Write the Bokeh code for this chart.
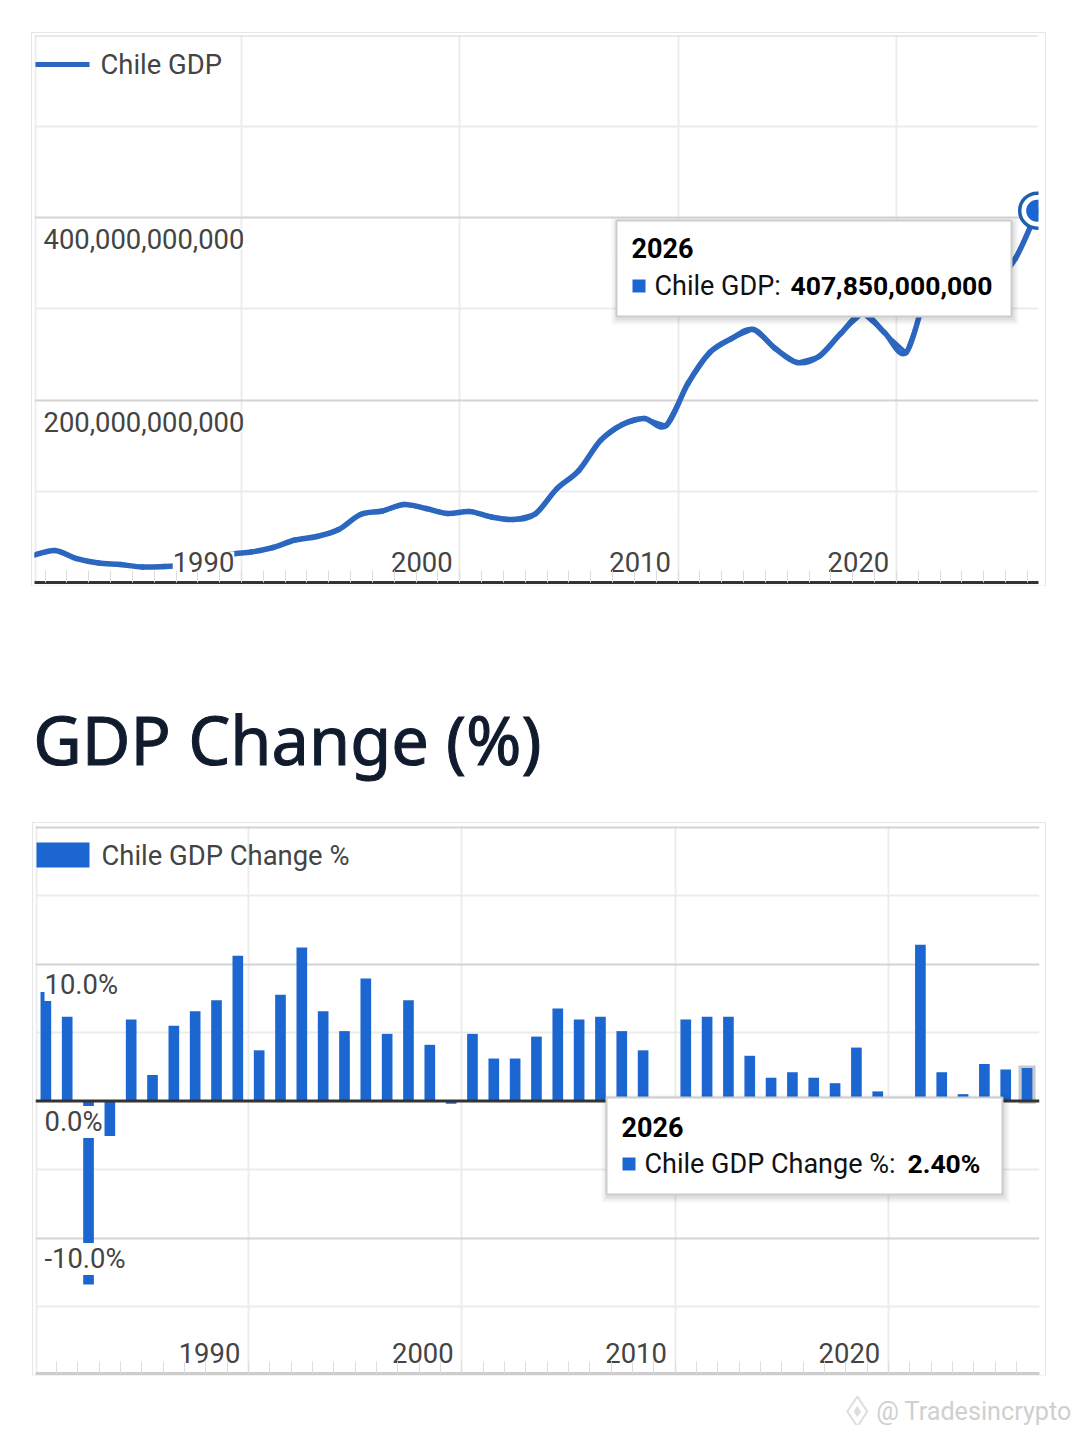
from bokeh.plotting import figure
from bokeh.layouts import column
from bokeh.models import FixedTicker, Range1d
from bokeh.core.properties import value
from bokeh.embed import file_html
from bokeh.resources import INLINE

# ---------- data ----------
years = list(range(1980, 2027))
gdp_billions = [29.6, 35.1, 26.3, 21.4, 19.7, 17.0, 17.5, 19.2, 23.0, 30.7,
                33.5, 38.4, 46.6, 50.5, 58.1, 74.6, 78.4, 85.6, 81.2, 75.7,
                77.9, 71.8, 69.1, 75.1, 103.0, 122.8, 155.8, 173.3, 179.9, 172.2,
                218.3, 252.3, 267.6, 277.5, 256.7, 241.3, 247.9, 273.1, 295.0, 274.2,
                252.3, 317.0, 300.5, 334.5, 330.0, 355.4, 407.85]
gdp_change = [7.95, 6.15, -13.4, -2.55, 5.95, 1.9, 5.5, 6.55, 7.35, 10.6,
              3.7, 7.75, 11.2, 6.55, 5.1, 8.95, 4.9, 7.35, 4.1, -0.2,
              4.9, 3.1, 3.1, 4.7, 6.75, 5.95, 6.15, 5.1, 3.7, -1.0,
              5.95, 6.15, 6.15, 3.3, 1.7, 2.1, 1.7, 1.3, 3.9, 0.7,
              -6.1, 11.4, 2.1, 0.5, 2.7, 2.3, 2.4]
decades = [1990, 2000, 2010, 2020]
decade_labels = ["1990", "2000", "2010", "2020"]
gdp_ticks = [200, 400]
gdp_tick_labels = ["200,000,000,000", "400,000,000,000"]
change_ticks = [10, 0, -10]
change_tick_labels = ["10.0%", "0.0%", "-10.0%"]

LINE = "#2b67bf"
BAR = "#1c66d1"
TXT = "#444444"
FONT = value("Roboto")
SIZE = "27.4px"


def base(width, height, xr, yr, left, right, top, bottom, margin):
    p = figure(frame_width=width, frame_height=height, x_range=Range1d(*xr), y_range=Range1d(*yr),
               output_backend="svg", toolbar_location=None,
               min_border_left=left, min_border_right=right, min_border_top=top, min_border_bottom=bottom,
               margin=margin, background_fill_color="white", border_fill_color="white")
    p.outline_line_color = None
    return p


def style_chart(p, major_y, minor_y, axis_color, left_x):
    p.yaxis.visible = False
    ax = p.xaxis[0]
    ax.ticker = FixedTicker(ticks=[], minor_ticks=years)
    ax.major_tick_in = 0
    ax.major_tick_out = 0
    ax.minor_tick_in = 12
    ax.minor_tick_out = 0
    ax.minor_tick_line_color = "#dddddd"
    ax.minor_tick_line_width = 1
    ax.axis_line_color = axis_color
    ax.axis_line_width = 3
    p.xgrid.ticker = FixedTicker(ticks=[left_x] + decades)
    p.xgrid.grid_line_color = "#ececec"
    p.xgrid.grid_line_width = 2
    p.ygrid.ticker = FixedTicker(ticks=major_y, minor_ticks=minor_y)
    p.ygrid.grid_line_color = "#d4d4d4"
    p.ygrid.grid_line_width = 2
    p.ygrid.minor_grid_line_color = "#ececec"
    p.ygrid.minor_grid_line_width = 2
    p.styles = {"outline": "1px solid #e6e6e6"}


def label(p, x, y, texts, align="left", color=TXT, size=SIZE, style="normal", xo=0, yo=0, halo=True):
    p.text(x=x, y=y, text=texts, text_font=FONT, text_font_size=size, text_color=color,
           text_font_style=style, text_align=align, text_baseline="middle", x_offset=xo, y_offset=yo,
           background_fill_color="white" if halo else None)


def tooltip(p, X, Y, l, r, t, b, year, name, val, namex_end, dy=0):
    for i, a in ((7, 0.03), (5, 0.04), (3, 0.05)):
        p.quad(left=X(l - i + 2), right=X(r + i), top=Y(t - i + 4), bottom=Y(b + i + 1), fill_color="black",
               fill_alpha=a, line_color=None)
    p.quad(left=X(l), right=X(r), top=Y(t), bottom=Y(b), fill_color="white", line_color="#cccccc", line_width=2)
    p.quad(left=X(l + 16), right=X(l + 29), top=Y(t + 60 + dy), bottom=Y(t + 73 + dy), fill_color=BAR, line_color=None)
    label(p, [X(l + 15)], [Y(t + 29 + 2 * dy)], [year], color="black", style="bold", size="27px", halo=False)
    label(p, [X(l + 38)], [Y(t + 66 + dy)], [name], color="#111111", size="27px", halo=False)
    label(p, [X(namex_end)], [Y(t + 66 + dy)], [val], color="black", style="bold", size="26.5px", halo=False)


def smooth(p, xs, ys, color, width):
    # draw the yearly values as one series, rounded at the joints the way the reference curve is
    p.line(xs, ys, line_color=color, line_width=width - 2, line_join="round")
    n = len(xs)
    k = 1 / 6
    cx0, cy0, cx1, cy1 = [], [], [], []
    for i in range(n - 1):
        a, d = max(i - 1, 0), min(i + 2, n - 1)
        cx0.append(xs[i] + (xs[i + 1] - xs[a]) * k)
        cy0.append(ys[i] + (ys[i + 1] - ys[a]) * k)
        cx1.append(xs[i + 1] - (xs[d] - xs[i]) * k)
        cy1.append(ys[i + 1] - (ys[d] - ys[i]) * k)
    p.bezier(x0=xs[:-1], y0=ys[:-1], x1=xs[1:], y1=ys[1:], cx0=cx0, cy0=cy0, cx1=cx1, cy1=cy1,
             line_color=color, line_width=width, line_cap="round")


# ---------- chart 1 ----------
X1 = lambda px: 1990 + (px - 242) / 21.83
Y1 = lambda py: (582 - py) / 0.9117
p1 = base(1004, 547, (X1(35), X1(1039)), (Y1(582), Y1(35)), 2, 7, 2, 3, (33, 0, 0, 32))
style_chart(p1, [200, 400, 600], [100, 300, 500], "#333333", X1(36))

line_x = [y + 0.45 for y in years]
smooth(p1, line_x, gdp_billions, LINE, 5.5)
label(p1, decades, [0] * 4, decade_labels, align="center", xo=-38, yo=-21)
label(p1, [X1(44)] * 2, gdp_ticks, gdp_tick_labels, yo=21.5)
p1.line([X1(36), X1(90)], [Y1(64)] * 2, line_color=LINE, line_width=5)
label(p1, [X1(101)], [Y1(64)], ["Chile GDP"], halo=False)
p1.scatter([line_x[-1]], [gdp_billions[-1]], size=35, fill_color="white", line_color="#1f5fae", line_width=3.5)
p1.scatter([line_x[-1]], [gdp_billions[-1]], size=22, fill_color=BAR, line_color=None)
tooltip(p1, X1, Y1, 617, 1012, 220, 316, "2026", "Chile GDP:", "407,850,000,000", 791, dy=-1)

# ---------- heading ----------
pt = figure(width=1072, height=238, x_range=Range1d(0, 1072), y_range=Range1d(238, 0),
            output_backend="svg", toolbar_location=None, min_border=0, margin=(0, 0, 0, 0))
pt.axis.visible = False
pt.grid.visible = False
pt.outline_line_color = None
pt.text(x=[31], y=[154], text=["GDP Change (%)"], text_font=value("Noto Sans"), text_font_size="66.7px",
        text_color="#101b2e", text_outline_color="#101b2e", text_baseline="middle")

# ---------- chart 2 ----------
X2 = lambda px: 1990 + (px - 248) / 21.33
Y2 = lambda py: (1101.5 - py) / 13.7
p2 = base(1004, 548, (X2(35), X2(1039)), (Y2(1374), Y2(826)), 1, 7, 2, 2, (0, 0, 0, 33))
style_chart(p2, [-20, -10, 10, 20], [-15, -5, 5, 15], "#cccccc", X2(36))

bar_x = [y + 0.5 for y in years]
p2.vbar(x=[bar_x[-1]], top=[gdp_change[-1] + 0.2], bottom=-0.2, width=0.8, fill_color="#888888", fill_alpha=0.45,
        line_color=None)
p2.vbar(x=bar_x, top=gdp_change, bottom=0, width=0.5, fill_color=BAR, line_color=None)
p2.line([X2(35), X2(1039)], [0, 0], line_color="#333333", line_width=3)
label(p2, decades, [Y2(1374)] * 4, decade_labels, align="center", xo=-39, yo=-21)
label(p2, [X2(44)] * 3, change_ticks, change_tick_labels, yo=21)
p2.quad(left=X2(36), right=X2(89), top=Y2(843), bottom=Y2(868), fill_color=BAR, line_color=None)
label(p2, [X2(101)], [Y2(856)], ["Chile GDP Change %"], halo=False)
tooltip(p2, X2, Y2, 606, 1002, 1098, 1195, "2026", "Chile GDP Change %:", "2.40%", 907)

# ---------- watermark ----------
pw = figure(width=1080, height=50, x_range=Range1d(0, 1080), y_range=Range1d(50, 0),
            output_backend="svg", toolbar_location=None, min_border=0, margin=(0, 0, 0, 0))
pw.axis.visible = False
pw.grid.visible = False
pw.outline_line_color = None
pw.scatter([862], [36], marker="diamond", size=30, fill_color=None, line_color="#dddddd", line_width=2)
pw.scatter([862], [36], marker="diamond", size=11, fill_color="#dddddd", line_color=None)
pw.text(x=[881], y=[36], text=["@ Tradesincrypto"], text_font=FONT, text_font_size="25.2px", text_color="#cfcfcf",
        text_baseline="middle")

page = column(p1, pt, p2, pw, spacing=0)
open("out.html", "w").write(file_html(page, INLINE))
